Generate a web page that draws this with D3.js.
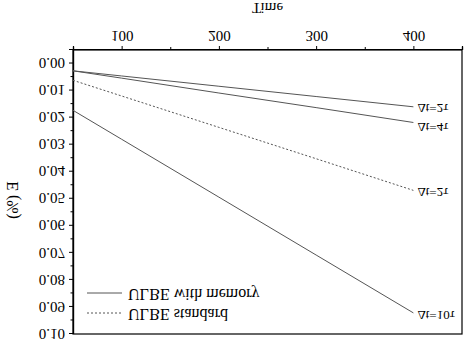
<!DOCTYPE html>
<html>
<head>
<meta charset="utf-8">
<script src="https://cdn.jsdelivr.net/npm/d3@7"></script>
<style>
  body { margin: 0; background: #fff; }
  text { font-family: "Liberation Serif", "Times New Roman", serif; }
</style>
</head>
<body>
<div id="chart"></div>
<script>
// Data (time vs error, %)
const times = [50, 100, 200, 300, 400];
const memory2 = [0.0027, 0.0046, 0.0084, 0.0122, 0.0160];
const memory4 = [0.0027, 0.0054, 0.0109, 0.0163, 0.0218];
const memory10 = [0.0173, 0.0280, 0.0494, 0.0708, 0.0922];
const standard2 = [0.0062, 0.0120, 0.0236, 0.0352, 0.0469];
const xTicks = [100, 200, 300, 400];
const yTicks = [0, 0.01, 0.02, 0.03, 0.04, 0.05, 0.06, 0.07, 0.08, 0.09, 0.10];

const series = [
    { name: "Δt=2τ", values: memory2, dashed: false, dy: 0 },
    { name: "Δt=4τ", values: memory4, dashed: false, dy: -3 },
    { name: "Δt=2τ", values: standard2, dashed: true, dy: -1 },
    { name: "Δt=10τ", values: memory10, dashed: false, dy: -1 }
];

// Set the dimensions and margins of the graph
const W = 474, H = 353;
const margin = { top: 19, right: 12, bottom: 50, left: 73 },
    width = W - margin.left - margin.right,
    height = H - margin.top - margin.bottom;

const root = d3.select("#chart")
    .append("svg")
    .attr("width", W)
    .attr("height", H);

// The reference picture is mirrored top to bottom
const flip = root.append("g")
    .attr("transform", `translate(0,${H}) scale(1,-1)`);

const svg = flip.append("g")
    .attr("transform", `translate(${margin.left},${margin.top})`);

const x = d3.scaleLinear().domain([50, 450]).range([0, width]);
const y = d3.scaleLinear().domain([-0.005, 0.10]).range([height, 0]);

// Frame
svg.append("rect")
    .attr("width", width).attr("height", height)
    .attr("fill", "none").attr("stroke", "#000").attr("stroke-width", 1.2);

// X axis
const xAxis = svg.append("g")
    .attr("transform", `translate(0,${height})`)
    .call(d3.axisBottom(x).tickValues(xTicks).tickSize(4).tickPadding(4).tickFormat(d3.format("d")));
svg.append("g")
    .attr("transform", `translate(0,${height})`)
    .call(d3.axisBottom(x).tickValues([150, 250, 350]).tickSize(3).tickFormat(""));

// Y axis
const yAxis = svg.append("g")
    .call(d3.axisLeft(y).tickValues(yTicks).tickSize(4).tickPadding(4).tickFormat(d3.format(".2f")));
svg.append("g")
    .call(d3.axisLeft(y).tickValues(d3.range(0.005, 0.1, 0.01)).tickSize(2.5).tickFormat(""));

svg.selectAll(".domain").attr("stroke", "#000").attr("stroke-width", 1.2);
svg.selectAll(".tick line").attr("stroke", "#000");
svg.selectAll(".tick text").style("font-size", "15px").attr("fill", "#000");

// Axis titles
svg.append("text")
    .attr("x", width / 2).attr("y", height + 47)
    .attr("text-anchor", "middle").style("font-size", "15px")
    .text("Time");

svg.append("text")
    .attr("transform", `translate(${18 - margin.left},${153 - margin.top}) rotate(-90)`)
    .attr("text-anchor", "middle").style("font-size", "16px")
    .text("E (%)");

// Lines
const line = d3.line()
    .x((d, i) => x(times[i]))
    .y(d => y(d));

series.forEach(s => {
    svg.append("path")
        .datum(s.values)
        .attr("fill", "none")
        .attr("stroke", "#555")
        .attr("stroke-width", 1)
        .attr("stroke-dasharray", s.dashed ? "2,2" : null)
        .attr("d", line);

    svg.append("text")
        .attr("x", x(times[times.length - 1]) + 4)
        .attr("y", y(s.values[s.values.length - 1]) + s.dy)
        .attr("dominant-baseline", "middle")
        .style("font-size", "13px")
        .text(s.name);
});

// Legend
const legend = [
    { label: "ULBE standard", dashed: true, y: 40 },
    { label: "ULBE with memory", dashed: false, y: 60 }
];
legend.forEach(l => {
    svg.append("line")
        .attr("x1", 87 - margin.left).attr("x2", 122 - margin.left)
        .attr("y1", l.y - margin.top).attr("y2", l.y - margin.top)
        .attr("stroke", "#555").attr("stroke-width", 1)
        .attr("stroke-dasharray", l.dashed ? "2,2" : null);
    svg.append("text")
        .attr("x", 128 - margin.left).attr("y", l.y - margin.top)
        .attr("dominant-baseline", "middle")
        .style("font-size", "16px")
        .text(l.label);
});
</script>
</body>
</html>
